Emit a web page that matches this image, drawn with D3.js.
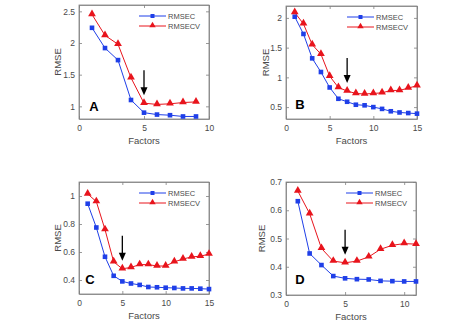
<!DOCTYPE html>
<meta charset="utf-8">
<style>
  body { margin: 0; background: #fff; }
  svg text { font-family: Arial, "Liberation Sans", sans-serif; }
</style>
<svg width="474" height="325"></svg>
<script src="https://d3js.org/d3.v7.min.js"></script>
<script>
// ---- data ----
var factorsA = [1, 2, 3, 4, 5, 6, 7, 8, 9];
var rmsecA   = [2.24, 1.92, 1.73, 1.10, 0.90, 0.87, 0.86, 0.84, 0.84];
var rmsecvA  = [2.45, 2.12, 1.98, 1.45, 1.05, 1.03, 1.04, 1.06, 1.07];

var factorsB = [1, 2, 3, 4, 5, 6, 7, 8, 9, 10, 11, 12, 13, 14, 15];
var rmsecB   = [2.02, 1.73, 1.32, 1.09, 0.83, 0.64, 0.59, 0.54, 0.53, 0.50, 0.47, 0.43, 0.41, 0.40, 0.39];
var rmsecvB  = [2.09, 1.90, 1.55, 1.39, 1.02, 0.83, 0.77, 0.73, 0.72, 0.73, 0.74, 0.78, 0.78, 0.82, 0.86];

var factorsC = [1, 2, 3, 4, 5, 6, 7, 8, 9, 10, 11, 12, 13, 14, 15];
var rmsecC   = [0.945, 0.775, 0.566, 0.43, 0.39, 0.375, 0.365, 0.35, 0.348, 0.345, 0.343, 0.34, 0.34, 0.338, 0.335];
var rmsecvC  = [1.015, 0.96, 0.76, 0.53, 0.48, 0.49, 0.51, 0.51, 0.50, 0.50, 0.53, 0.55, 0.565, 0.57, 0.585];

var factorsD = [1, 2, 3, 4, 5, 6, 7, 8, 9, 10, 11];
var rmsecD   = [0.632, 0.447, 0.406, 0.367, 0.359, 0.356, 0.355, 0.35, 0.349, 0.348, 0.348];
var rmsecvD  = [0.668, 0.588, 0.465, 0.42, 0.414, 0.42, 0.435, 0.462, 0.476, 0.482, 0.48];

var seriesNames = ["RMSEC", "RMSECV"];

// ---- layout ----
var panels = [
  {label: "A", x: factorsA, c: rmsecA, cv: rmsecvA, xd: [0, 10], yd: [0.8, 2.6],
   xt: [0, 5, 10], yt: [1, 1.5, 2, 2.5], box: [79, 5, 209, 119], ylab: 58, arrow: 5, lab: [94, 106]},
  {label: "B", x: factorsB, c: rmsecB, cv: rmsecvB, xd: [0, 15], yd: [0.3, 2.2],
   xt: [0, 5, 10, 15], yt: [0.5, 1, 1.5, 2], box: [286, 6, 417, 119], ylab: 266, arrow: 7, lab: [300, 104]},
  {label: "C", x: factorsC, c: rmsecC, cv: rmsecvC, xd: [0, 15], yd: [0.3, 1.1],
   xt: [0, 5, 10, 15], yt: [0.4, 0.6, 0.8, 1], box: [79, 182, 209, 294], ylab: 58, arrow: 5, lab: [90, 279]},
  {label: "D", x: factorsD, c: rmsecD, cv: rmsecvD, xd: [0, 11], yd: [0.3, 0.7],
   xt: [0, 5, 10], yt: [0.3, 0.4, 0.5, 0.6, 0.7], box: [286, 182, 416, 295], ylab: 262, arrow: 5, lab: [300, 279]}
];

var blue = "#1f3fe8", red = "#e8141c", axisCol = "#808080", textCol = "#4a4a4a";

var svg = d3.select("svg");

panels.forEach(function(p) {
  var b = p.box;
  var x = d3.scaleLinear().domain(p.xd).range([b[0], b[2]]);
  var y = d3.scaleLinear().domain(p.yd).range([b[3], b[1]]);
  var g = svg.append("g");

  // axes (matlab style, ticks inward, box on)
  var fmt = function(d) { return String(d); };
  g.append("g").attr("transform", "translate(0," + b[3] + ")")
    .call(d3.axisBottom(x).tickValues(p.xt).tickFormat(fmt).tickSizeInner(-3).tickSizeOuter(0).tickPadding(6));
  g.append("g").attr("transform", "translate(" + b[0] + ",0)")
    .call(d3.axisLeft(y).tickValues(p.yt).tickFormat(fmt).tickSizeInner(-3).tickSizeOuter(0).tickPadding(4));
  g.append("g").attr("transform", "translate(0," + b[1] + ")")
    .call(d3.axisTop(x).tickValues(p.xt).tickFormat("").tickSizeInner(-3).tickSizeOuter(0));
  g.append("g").attr("transform", "translate(" + b[2] + ",0)")
    .call(d3.axisRight(y).tickValues(p.yt).tickFormat("").tickSizeInner(-3).tickSizeOuter(0));
  g.selectAll(".domain, .tick line").attr("stroke", axisCol).attr("stroke-width", 0.8);
  g.selectAll(".tick text").attr("fill", textCol).style("font-size", "8.5px");
  g.append("rect").attr("x", b[0]).attr("y", b[1]).attr("width", b[2] - b[0]).attr("height", b[3] - b[1])
    .attr("fill", "none").attr("stroke", axisCol).attr("stroke-width", 0.8);

  // axis titles
  g.append("text").attr("x", (b[0] + b[2]) / 2).attr("y", b[3] + 25)
    .attr("text-anchor", "middle").attr("fill", textCol).style("font-size", "9.5px").text("Factors");
  g.append("text").attr("transform", "translate(" + p.ylab + "," + ((b[1] + b[3]) / 2) + ") rotate(-90)")
    .attr("text-anchor", "middle").attr("dy", "0.35em").attr("fill", textCol).style("font-size", "9.5px").text("RMSE");

  // lines
  var line = d3.line().x(function(d) { return x(d[0]); }).y(function(d) { return y(d[1]); });
  var cData = p.x.map(function(f, i) { return [f, p.c[i]]; });
  var cvData = p.x.map(function(f, i) { return [f, p.cv[i]]; });

  g.append("path").datum(cData).attr("d", line).attr("fill", "none").attr("stroke", blue).attr("stroke-width", 1);
  g.append("path").datum(cvData).attr("d", line).attr("fill", "none").attr("stroke", red).attr("stroke-width", 1);

  g.selectAll(".sq").data(cData).enter().append("rect")
    .attr("x", function(d) { return x(d[0]) - 2.3; }).attr("y", function(d) { return y(d[1]) - 2.3; })
    .attr("width", 4.6).attr("height", 4.6).attr("fill", blue);
  var tri = d3.symbol().type(d3.symbolTriangle).size(26);
  g.selectAll(".tri").data(cvData).enter().append("path")
    .attr("d", tri).attr("fill", red)
    .attr("transform", function(d) { return "translate(" + x(d[0]) + "," + (y(d[1]) - 0.5) + ")"; });

  // legend
  var lx = b[2] - 70, ly = b[1] + 11;
  var triSmall = d3.symbol().type(d3.symbolTriangle).size(18);
  seriesNames.forEach(function(name, i) {
    var col = i === 0 ? blue : red;
    var yy = ly + i * 10;
    g.append("line").attr("x1", lx).attr("x2", lx + 27).attr("y1", yy).attr("y2", yy)
      .attr("stroke", col).attr("stroke-width", 1);
    if (i === 0) {
      g.append("rect").attr("x", lx + 13.5 - 2).attr("y", yy - 2).attr("width", 4).attr("height", 4).attr("fill", col);
    } else {
      g.append("path").attr("d", triSmall).attr("fill", col).attr("transform", "translate(" + (lx + 13.5) + "," + (yy - 0.5) + ")");
    }
    g.append("text").attr("x", lx + 29).attr("y", yy).attr("dy", "0.35em")
      .attr("fill", textCol).style("font-size", "7.5px").text(name);
  });

  // arrow pointing to optimal factor
  var ax = x(p.arrow), ay = y(p.cv[p.x.indexOf(p.arrow)]) - 8;
  g.append("line").attr("x1", ax).attr("x2", ax).attr("y1", ay - 25).attr("y2", ay - 6)
    .attr("stroke", "#000").attr("stroke-width", 1.3);
  g.append("path").attr("d", "M" + (ax - 3.5) + "," + (ay - 8) + "L" + (ax + 3.5) + "," + (ay - 8) + "L" + ax + "," + ay + "Z")
    .attr("fill", "#000");

  // panel letter
  g.append("text").attr("x", p.lab[0]).attr("y", p.lab[1]).attr("text-anchor", "middle").attr("dy", "0.35em")
    .attr("fill", "#000").style("font-size", "13px").style("font-weight", "bold").text(p.label);
});
</script>
